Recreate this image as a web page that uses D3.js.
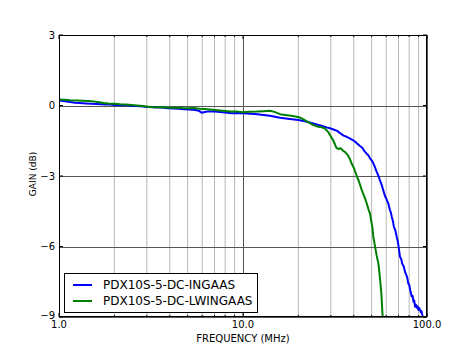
<!DOCTYPE html>
<html lang="en">
<head>
  <meta charset="UTF-8">
  <script src="https://d3js.org/d3.v7.min.js"></script>
  <title>Gain vs frequency</title>
  <style>
    body { margin: 0; background: #fff; }
    text { font-family: "DejaVu Sans", sans-serif; }
  </style>
</head>
<body>
  <div id="chart"></div>
  <script>
    // frequency (MHz) / gain (dB)
    const ingaasFreq = [1.0, 1.08, 1.15, 1.22, 1.3, 1.4, 1.5, 1.6, 1.7, 1.8, 1.9, 2.0, 2.15, 2.3, 2.45, 2.6, 2.8, 2.93, 3.1, 3.3, 3.5, 3.7, 3.9, 4.2, 4.5, 4.8, 5.1, 5.5, 5.75, 5.96, 6.2, 6.5, 7.05, 7.5, 8.0, 8.7, 9.3, 10.0, 11.0, 12.0, 12.9, 14.0, 15.9, 17.5, 20.0, 22.0, 24.1, 25.5, 27.0, 28.5, 29.7, 31.0, 32.5, 34.0, 35.2, 36.6, 38.0, 39.5, 41.0, 43.2, 44.5, 45.5, 47.0, 48.0, 49.0, 50.5, 52.0, 53.3, 54.5, 55.5, 56.8, 57.9, 59.1, 60.0, 61.0, 61.6, 62.9, 63.6, 64.3, 65.2, 66.1, 67.2, 68.4, 69.5, 71.3, 72.5, 73.5, 74.8, 75.9, 77.0, 78.0, 79.1, 80.2, 81.0, 82.6, 83.5, 84.5, 85.3, 86.1, 87.0, 88.0, 89.0, 89.8, 90.8, 91.6, 92.5, 93.3, 94.2, 94.8];
    const ingaasGain = [0.21, 0.18, 0.15, 0.12, 0.11, 0.09, 0.07, 0.06, 0.05, 0.04, 0.04, 0.02, 0.01, 0.02, -0.01, -0.02, -0.03, -0.05, -0.06, -0.07, -0.08, -0.1, -0.12, -0.13, -0.14, -0.16, -0.17, -0.19, -0.22, -0.31, -0.28, -0.25, -0.26, -0.28, -0.3, -0.33, -0.32, -0.33, -0.35, -0.37, -0.4, -0.44, -0.52, -0.56, -0.62, -0.68, -0.76, -0.82, -0.87, -0.93, -0.97, -1.02, -1.08, -1.2, -1.28, -1.33, -1.4, -1.47, -1.56, -1.72, -1.8, -1.92, -2.05, -2.12, -2.25, -2.38, -2.6, -2.82, -3.0, -3.18, -3.4, -3.62, -3.85, -3.95, -4.1, -4.16, -4.45, -4.55, -4.73, -4.9, -5.16, -5.3, -5.58, -5.8, -6.43, -6.55, -6.75, -6.85, -7.07, -7.2, -7.3, -7.57, -7.65, -7.85, -8.13, -8.1, -8.35, -8.3, -8.56, -8.48, -8.6, -8.55, -8.7, -8.62, -8.7, -8.8, -8.75, -8.9, -8.95];

    const lwingaasFreq = [1.0, 1.08, 1.15, 1.25, 1.35, 1.44, 1.55, 1.65, 1.75, 1.85, 2.0, 2.15, 2.3, 2.48, 2.65, 2.85, 3.05, 3.3, 3.55, 3.8, 4.1, 4.4, 4.7, 5.04, 5.4, 5.8, 6.2, 6.6, 7.05, 7.5, 8.0, 8.5, 9.2, 10.0, 10.8, 11.9, 12.9, 14.0, 14.8, 15.9, 17.0, 18.3, 19.6, 20.5, 21.3, 22.5, 24.1, 25.5, 26.5, 27.8, 29.0, 29.7, 31.0, 32.2, 33.0, 34.0, 35.0, 35.8, 37.0, 38.2, 39.0, 40.0, 41.5, 42.5, 43.2, 44.2, 45.5, 46.2, 47.0, 48.0, 49.0, 50.0, 50.6, 51.1, 52.2, 53.3, 54.0, 54.5, 55.6, 56.5, 57.4];
    const lwingaasGain = [0.26, 0.24, 0.22, 0.21, 0.2, 0.19, 0.17, 0.14, 0.11, 0.09, 0.07, 0.05, 0.04, 0.02, 0.0, -0.02, -0.05, -0.08, -0.06, -0.08, -0.1, -0.09, -0.11, -0.12, -0.11, -0.14, -0.15, -0.17, -0.19, -0.21, -0.23, -0.26, -0.25, -0.29, -0.27, -0.26, -0.24, -0.22, -0.27, -0.37, -0.4, -0.44, -0.48, -0.52, -0.59, -0.7, -0.83, -0.9, -0.92, -0.97, -1.12, -1.26, -1.5, -1.8, -1.85, -1.82, -1.93, -1.97, -2.1, -2.3, -2.48, -2.65, -3.0, -3.2, -3.35, -3.6, -3.85, -3.98, -4.16, -4.4, -4.6, -5.0, -5.25, -5.6, -6.0, -6.4, -6.6, -6.75, -7.4, -8.0, -9.0];

    const yTicks = [3, 0, -3, -6, -9];
    const xTicks = [1, 10, 100];
    const seriesNames = ['PDX10S-5-DC-INGAAS', 'PDX10S-5-DC-LWINGAAS'];
    const seriesColors = ['#0000ff', '#008000'];

    const width = 474, height = 353;
    const margin = { top: 35, right: 47, bottom: 36, left: 59 };

    const svg = d3.select('#chart').append('svg')
      .attr('width', width)
      .attr('height', height);

    const x = d3.scaleLog().domain([1, 100]).range([margin.left, width - margin.right]);
    const y = d3.scaleLinear().domain([-9, 3]).range([height - margin.bottom, margin.top]);

    const x0 = x.range()[0], x1 = x.range()[1];
    const y0 = y.range()[0], y1 = y.range()[1];

    const minorX = [];
    [1, 10].forEach(d => { for (let k = 2; k <= 9; k++) minorX.push(d * k); });

    svg.append('clipPath').attr('id', 'plotclip')
      .append('rect').attr('x', x0).attr('y', y1).attr('width', x1 - x0).attr('height', y0 - y1);

    // minor grid
    svg.append('g').selectAll('line').data(minorX).enter().append('line')
      .attr('x1', d => x(d)).attr('x2', d => x(d))
      .attr('y1', y1).attr('y2', y0)
      .attr('stroke', '#b8b8b8').attr('stroke-width', 1);

    // major grid
    svg.append('g').selectAll('line').data(xTicks).enter().append('line')
      .attr('x1', d => Math.round(x(d)) + 0.5).attr('x2', d => Math.round(x(d)) + 0.5)
      .attr('y1', y1).attr('y2', y0)
      .attr('stroke', '#555').attr('stroke-width', 1);
    svg.append('g').selectAll('line').data(yTicks).enter().append('line')
      .attr('x1', x0).attr('x2', x1)
      .attr('y1', d => Math.round(y(d)) + 0.5).attr('y2', d => Math.round(y(d)) + 0.5)
      .attr('stroke', '#555').attr('stroke-width', 1);

    // data lines
    const line = d3.line().x(d => x(d[0])).y(d => y(d[1]));
    const series = [
      d3.zip(ingaasFreq, ingaasGain),
      d3.zip(lwingaasFreq, lwingaasGain)
    ];
    svg.append('g').attr('clip-path', 'url(#plotclip)')
      .selectAll('path').data(series).enter().append('path')
      .attr('d', line)
      .attr('fill', 'none')
      .attr('stroke', (d, i) => seriesColors[i])
      .attr('stroke-width', 2)
      .attr('stroke-linejoin', 'round');

    // inward ticks on all sides
    const ticks = svg.append('g').attr('stroke', '#000').attr('stroke-width', 1);
    xTicks.forEach(d => {
      ticks.append('line').attr('x1', x(d)).attr('x2', x(d)).attr('y1', y0).attr('y2', y0 - 4);
      ticks.append('line').attr('x1', x(d)).attr('x2', x(d)).attr('y1', y1).attr('y2', y1 + 4);
    });
    minorX.forEach(d => {
      ticks.append('line').attr('x1', x(d)).attr('x2', x(d)).attr('y1', y0).attr('y2', y0 - 2);
      ticks.append('line').attr('x1', x(d)).attr('x2', x(d)).attr('y1', y1).attr('y2', y1 + 2);
    });
    yTicks.forEach(d => {
      ticks.append('line').attr('x1', x0).attr('x2', x0 + 4).attr('y1', y(d)).attr('y2', y(d));
      ticks.append('line').attr('x1', x1).attr('x2', x1 - 4).attr('y1', y(d)).attr('y2', y(d));
    });

    // frame
    svg.append('rect')
      .attr('x', x0 + 0.5).attr('y', y1 + 0.5)
      .attr('width', x1 - x0 - 1).attr('height', y0 - y1 - 1)
      .attr('fill', 'none').attr('stroke', '#000').attr('stroke-width', 1);

    // tick labels
    svg.append('g').selectAll('text').data(yTicks).enter().append('text')
      .attr('x', x0 - 4).attr('y', d => y(d) - (d === -9 ? 2 : 0)).attr('dy', '0.35em')
      .attr('text-anchor', 'end').attr('font-size', 10)
      .text(d => d < 0 ? '\u2212' + Math.abs(d) : d);
    svg.append('g').selectAll('text').data(xTicks).enter().append('text')
      .attr('x', d => x(d)).attr('y', y0 + 11)
      .attr('text-anchor', 'middle').attr('font-size', 10)
      .text(d => d.toFixed(1));

    // axis labels
    svg.append('text')
      .attr('x', (x0 + x1) / 2).attr('y', height - 11)
      .attr('text-anchor', 'middle').attr('font-size', 10)
      .text('FREQUENCY (MHz)');
    svg.append('text')
      .attr('transform', `translate(36,${(y0 + y1) / 2 - 2}) rotate(-90)`)
      .attr('text-anchor', 'middle').attr('font-size', 9)
      .text('GAIN (dB)');

    // legend
    const legend = svg.append('g').attr('transform', 'translate(64,273)');
    legend.append('rect')
      .attr('x', 0.5).attr('y', 0.5).attr('width', 193).attr('height', 39)
      .attr('fill', '#fff').attr('stroke', '#000').attr('stroke-width', 1);
    const items = legend.selectAll('g.item').data(seriesNames).enter().append('g')
      .attr('transform', (d, i) => `translate(0,${12 + i * 16})`);
    items.append('line')
      .attr('x1', 9).attr('x2', 28).attr('y1', 0).attr('y2', 0)
      .attr('stroke', (d, i) => seriesColors[i]).attr('stroke-width', 2);
    items.append('text')
      .attr('x', 39).attr('y', 0).attr('dy', '0.35em')
      .attr('font-size', 12)
      .text(d => d);
  </script>
</body>
</html>
